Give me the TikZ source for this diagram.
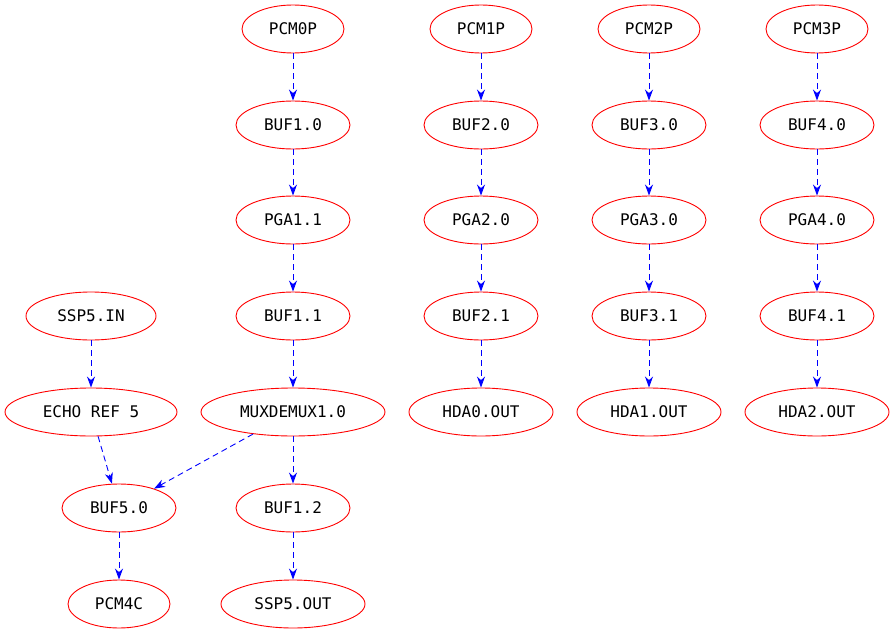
\documentclass[tikz,border=0pt]{standalone}
\usepackage{fontspec}
\setmonofont{DejaVu Sans Mono}
\usetikzlibrary{shapes.geometric,arrows.meta}
\begin{document}
\begin{tikzpicture}[x=1pt,y=-1pt,
  nd/.style={ellipse,draw=red,line width=0.9pt,inner sep=0pt,minimum height=48pt,font=\ttfamily\fontsize{16}{18}\selectfont},
  ar/.style={draw=blue,dashed,dash pattern=on 6pt off 4pt,line width=0.9pt,-{Stealth[length=11pt,width=8pt]}}]
\useasboundingbox (0,0) rectangle (895,635);
\foreach \n/\x/\y/\w/\t in {
 a0/293/29/102/PCM0P, a1/293/125/114/BUF1.0, a2/293/220/114/PGA1.1, a3/293/316/114/BUF1.1,
 a4/293/412/184/MUXDEMUX1.0, a5/293/508/114/BUF1.2, a6/293/604/144/SSP5.OUT,
 b0/481/29/102/PCM1P, b1/481/125/114/BUF2.0, b2/481/220/114/PGA2.0, b3/481/316/114/BUF2.1, b4/481/412/144/HDA0.OUT,
 c0/649/29/102/PCM2P, c1/649/125/114/BUF3.0, c2/649/220/114/PGA3.0, c3/649/316/114/BUF3.1, c4/649/412/144/HDA1.OUT,
 d0/817/29/102/PCM3P, d1/817/125/114/BUF4.0, d2/817/220/114/PGA4.0, d3/817/316/114/BUF4.1, d4/817/412/144/HDA2.OUT,
 e0/91/316/130/SSP5.IN, e1/91/412/172/ECHO REF 5, e2/119/508/114/BUF5.0, e3/119/604/102/PCM4C}
 {\node[nd,minimum width=\w pt] (\n) at (\x,\y) {\t};}
\foreach \c in {a,b,c,d}{
 \draw[ar] (\c0) -- (\c1); \draw[ar] (\c1) -- (\c2); \draw[ar] (\c2) -- (\c3); \draw[ar] (\c3) -- (\c4);}
\draw[ar] (a4) -- (a5); \draw[ar] (a5) -- (a6);
\draw[ar] (e0) -- (e1); \draw[ar] (e1) -- (e2); \draw[ar] (e2) -- (e3);
\draw[ar] (a4) -- (e2);
\end{tikzpicture}
\end{document}
